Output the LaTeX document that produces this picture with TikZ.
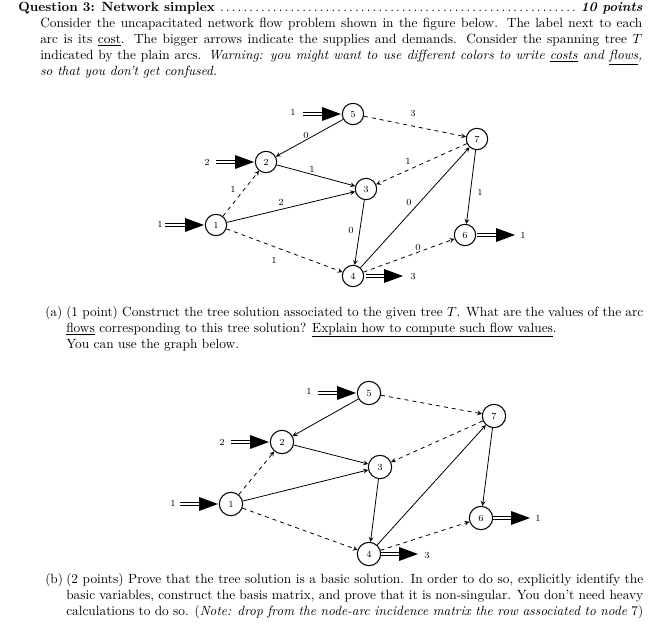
\documentclass[tikz,border=0pt]{standalone}
\usetikzlibrary{calc}
\newcommand{\myul}[1]{\underline{#1}}
\begin{document}
\begin{tikzpicture}[x=0.75pt,y=-0.75pt,
  nd/.style={circle,draw,thick,minimum size=16pt,inner sep=0pt,font=\scriptsize},
  nd2/.style={circle,draw,thick,minimum size=17.5pt,inner sep=0pt,font=\scriptsize},
  arc/.style={-stealth,semithick,shorten >=0pt},
  dar/.style={-stealth,semithick,dashed},
  lab/.style={font=\scriptsize,inner sep=1pt},
  txt/.style={anchor=north west,align=justify,inner sep=0pt,font=\normalsize}]
\useasboundingbox (0,0) rectangle (654,631);
% supply arrow macro
\newcommand{\supp}[3]{% start x, tip x, y
  \draw[double,double distance=2pt,semithick] (#1,#3) -- (#2-18,#3);
  \fill (#2-19,#3-7) -- (#2,#3) -- (#2-19,#3+7) -- cycle;}
% header
\node[txt,text width=624*0.75pt] (hd) at (18,2) {\textbf{Question 3: Network simplex}\,\dotfill\,\textbf{\textit{10 points}}};
\node[txt,text width=602*0.75pt] (p1) at (40,18) {Consider the uncapacitated network flow problem shown in the figure below. The label next to each arc is its \myul{cost}. The bigger arrows indicate the supplies and demands. Consider the spanning tree $T$ indicated by the plain arcs. \textit{Warning: you might want to use different colors to write \myul{costs} and \myul{flows}, so that you don't get confused.}};
% graph 1
\node[nd] (a5) at (353,114) {5};
\node[nd] (a7) at (477,139) {7};
\node[nd] (a2) at (266,162) {2};
\node[nd] (a3) at (366,189) {3};
\node[nd] (a1) at (216,225) {1};
\node[nd] (a6) at (465,235) {6};
\node[nd] (a4) at (353,276) {4};
\draw[dar] (a5) -- (a7);
\draw[arc] (a5) -- (a2);
\draw[arc] (a2) -- (a3);
\draw[dar] (a7) -- (a3);
\draw[dar] (a1) -- (a2);
\draw[arc] (a1) -- (a3);
\draw[arc] (a7) -- (a6);
\draw[arc] (a3) -- (a4);
\draw[arc] (a4) -- (a7);
\draw[dar] (a4) -- (a6);
\draw[dar] (a1) -- (a4);
\node[lab] (c57) at (413,113) {3};
\node[lab] (c52) at (306,135) {0};
\node[lab] (c23) at (312,169) {1};
\node[lab] (c73) at (408,161) {1};
\node[lab] (c12) at (233,189) {1};
\node[lab] (c13) at (281,202) {2};
\node[lab] (c76) at (480,192) {1};
\node[lab] (c34) at (351,230) {0};
\node[lab] (c47) at (409,202) {0};
\node[lab] (c46) at (418,247) {0};
\node[lab] (c14) at (274,260) {1};
\supp{303}{341}{114} \node[lab] (s5) at (293,112) {1};
\supp{216}{254}{162} \node[lab] (s2) at (207,162) {2};
\supp{165}{204}{225} \node[lab] (s1) at (160,224) {1};
\supp{477}{515}{235} \node[lab] (s6) at (523,235) {1};
\supp{366}{403}{276} \node[lab] (s4) at (413,276) {3};
% part a
\node[anchor=north west,inner sep=0pt] (la) at (45,306) {(a)};
\node[txt,text width=577*0.75pt] (pa) at (66,306) {(1 point) Construct the tree solution associated to the given tree $T$. What are the values of the arc \myul{flows} corresponding to this tree solution? \myul{Explain how to compute such flow values}.\\ You can use the graph below.};
% graph 2
\node[nd2] (b5) at (369,393) {5};
\node[nd2] (b7) at (494,416) {7};
\node[nd2] (b2) at (282,442) {2};
\node[nd2] (b3) at (380,467) {3};
\node[nd2] (b1) at (231,504) {1};
\node[nd2] (b6) at (481,518) {6};
\node[nd2] (b4) at (369,554) {4};
\draw[dar] (b5) -- (b7);
\draw[arc] (b5) -- (b2);
\draw[arc] (b2) -- (b3);
\draw[dar] (b7) -- (b3);
\draw[dar] (b1) -- (b2);
\draw[arc] (b1) -- (b3);
\draw[arc] (b7) -- (b6);
\draw[arc] (b3) -- (b4);
\draw[arc] (b4) -- (b7);
\draw[dar] (b4) -- (b6);
\draw[dar] (b1) -- (b4);
\supp{318}{356}{393} \node[lab] (t5) at (309,391) {1};
\supp{231}{269}{442} \node[lab] (t2) at (222,442) {2};
\supp{180}{218}{504} \node[lab] (t1) at (173,503) {1};
\supp{493}{530}{518} \node[lab] (t6) at (538,518) {1};
\supp{381}{418}{554} \node[lab] (t4) at (427,555) {3};
% part b
\node[anchor=north west,inner sep=0pt] (lb) at (45,573) {(b)};
\node[txt,text width=577*0.75pt] (pb) at (66,573) {(2 points) Prove that the tree solution is a basic solution. In order to do so, explicitly identify the basic variables, construct the basis matrix, and prove that it is non-singular. You don't need heavy calculations to do so. (\textit{Note: drop from the node-arc incidence matrix the row associated to node} 7)};
\end{tikzpicture}
\end{document}
